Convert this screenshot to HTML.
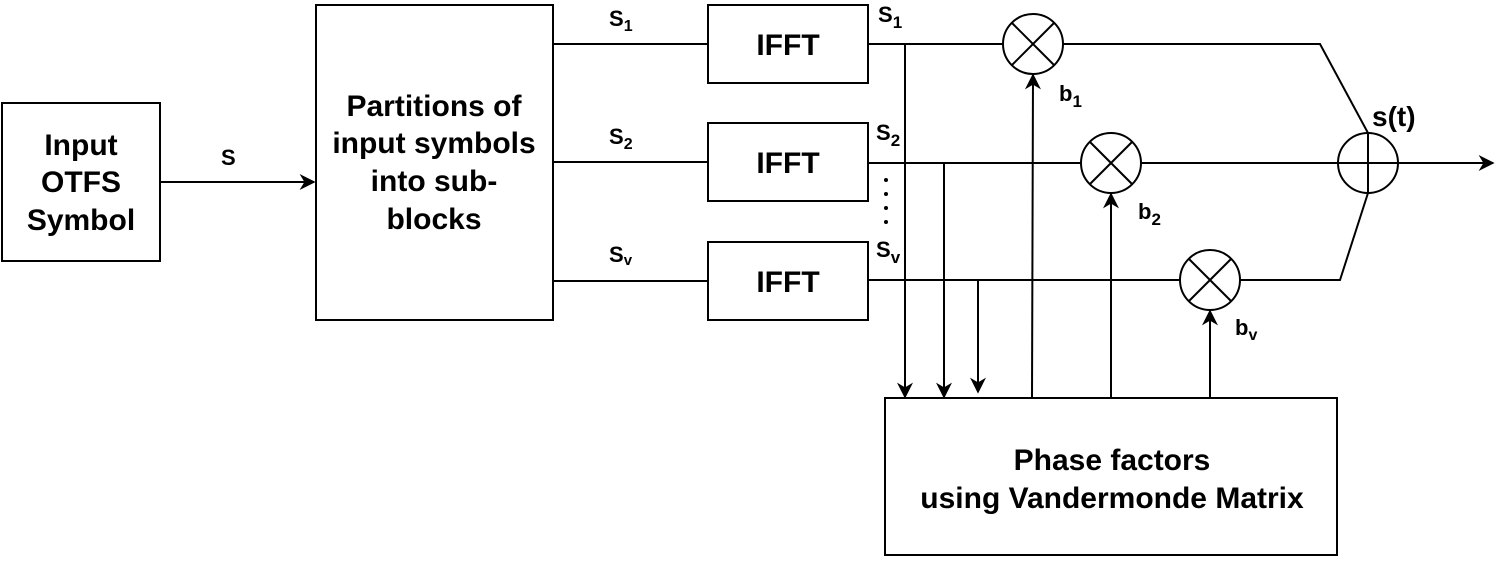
<!DOCTYPE html>
<html><head><meta charset="utf-8"><style>
html,body{margin:0;padding:0;background:#fff;}
svg{display:block;}
text{font-family:"Liberation Sans",Arial,sans-serif;font-weight:bold;fill:#000;}
</style></head><body>
<svg width="1497" height="563" viewBox="0 0 1497 563" xmlns="http://www.w3.org/2000/svg">
<defs>
<marker id="ar" viewBox="0 0 10 10" refX="9" refY="5" markerWidth="18" markerHeight="16" markerUnits="userSpaceOnUse" orient="auto">
<path d="M0,0 L10,5 L0,10 L3,5 z" fill="#000"/>
</marker>
</defs>
<g fill="none" stroke="#000" stroke-width="2">
<rect x="2" y="103" width="158" height="158"/>
<rect x="316" y="5" width="237" height="315"/>
<rect x="708" y="5" width="160" height="78"/>
<rect x="708" y="123" width="160" height="78"/>
<rect x="708" y="242" width="160" height="78"/>
<rect x="885" y="398" width="452" height="157"/>
<line x1="160" y1="182" x2="314" y2="182" marker-end="url(#ar)"/>
<line x1="553" y1="44" x2="708" y2="44"/>
<line x1="553" y1="162" x2="708" y2="162"/>
<line x1="553" y1="281" x2="708" y2="281"/>
<line x1="868" y1="44" x2="1003" y2="44"/>
<line x1="868" y1="163" x2="1082" y2="163"/>
<line x1="868" y1="280" x2="1180" y2="280"/>
<polyline points="1063,44 1320,44 1368,133"/>
<polyline points="1240,280 1340,280 1368,193"/>
<line x1="1141" y1="163" x2="1338" y2="163"/>
<line x1="1338" y1="163" x2="1493" y2="163" marker-end="url(#ar)"/>
<circle cx="1033" cy="44" r="30"/>
<line x1="1012" y1="23" x2="1054" y2="65"/><line x1="1054" y1="23" x2="1012" y2="65"/>
<circle cx="1111" cy="163" r="30"/>
<line x1="1090" y1="142" x2="1132" y2="184"/><line x1="1132" y1="142" x2="1090" y2="184"/>
<circle cx="1210" cy="280" r="30"/>
<line x1="1189" y1="259" x2="1231" y2="301"/><line x1="1231" y1="259" x2="1189" y2="301"/>
<circle cx="1368" cy="163" r="30"/>
<line x1="1368" y1="133" x2="1368" y2="193"/>
<line x1="905" y1="44" x2="905" y2="397" marker-end="url(#ar)"/>
<line x1="944" y1="163" x2="944" y2="397" marker-end="url(#ar)"/>
<line x1="978" y1="280" x2="978" y2="392" marker-end="url(#ar)"/>
<line x1="1032" y1="398" x2="1033" y2="75" marker-end="url(#ar)"/>
<line x1="1111" y1="398" x2="1111" y2="194" marker-end="url(#ar)"/>
<line x1="1210" y1="398" x2="1210" y2="311" marker-end="url(#ar)"/>
</g>
<g fill="#000">
<circle cx="886" cy="180" r="2"/><circle cx="886" cy="194" r="2"/><circle cx="886" cy="208" r="2"/><circle cx="886" cy="222" r="2"/>
</g>
<g font-size="30" text-anchor="middle">
<text x="81" y="155">Input</text>
<text x="81" y="192">OTFS</text>
<text x="81" y="230">Symbol</text>
<text x="434" y="116">Partitions of</text>
<text x="434" y="153">input symbols</text>
<text x="434" y="191">into sub-</text>
<text x="434" y="229">blocks</text>
<text x="788" y="55">IFFT</text>
<text x="788" y="173">IFFT</text>
<text x="788" y="292">IFFT</text>
<text x="1112" y="470">Phase factors</text>
<text x="1112" y="508">using Vandermonde Matrix</text>
</g>
<g font-size="22">
<text x="221" y="165">S</text>
<text x="609" y="26">S<tspan font-size="16" dy="5">1</tspan></text>
<text x="609" y="144">S<tspan font-size="16" dy="5">2</tspan></text>
<text x="609" y="262">S<tspan font-size="15" dy="3">v</tspan></text>
<text x="878" y="22">S<tspan font-size="17" dy="6">1</tspan></text>
<text x="876" y="140">S<tspan font-size="17" dy="6">2</tspan></text>
<text x="876" y="257">S<tspan font-size="17" dy="6">v</tspan></text>
<text x="1059" y="101">b<tspan font-size="17" dy="6">1</tspan></text>
<text x="1138" y="219">b<tspan font-size="17" dy="6">2</tspan></text>
<text x="1235" y="335">b<tspan font-size="16" dy="5">v</tspan></text>
</g>
<text x="1372" y="126" font-size="28">s(t)</text>
</svg>
</body></html>
